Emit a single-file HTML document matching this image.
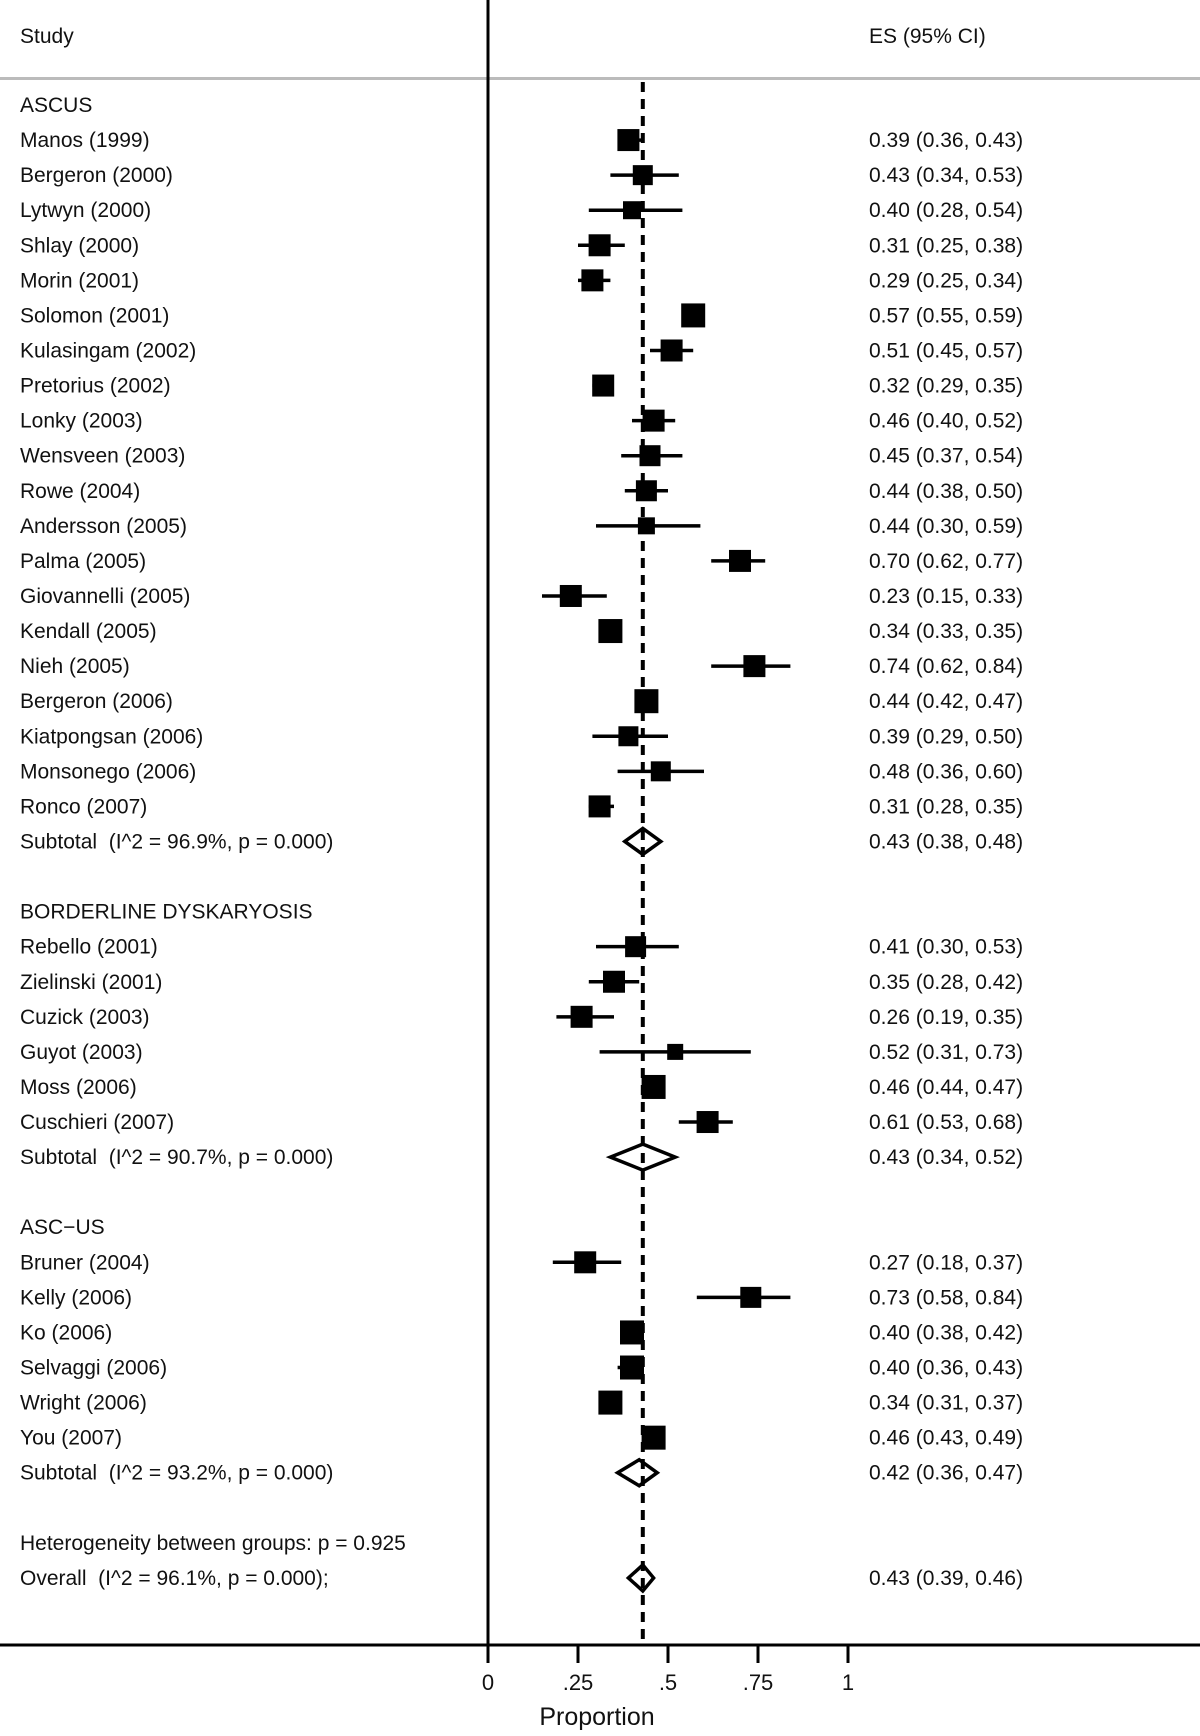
<!DOCTYPE html>
<html><head><meta charset="utf-8">
<style>
html,body{margin:0;padding:0;background:#fff;}
svg text{font-family:"Liberation Sans",sans-serif;fill:#111;white-space:pre;}
</style></head>
<body>
<svg id="chart" width="1200" height="1731" viewBox="0 0 1200 1731" xmlns="http://www.w3.org/2000/svg" xml:space="preserve">
<text x="20" y="43" font-size="21">Study</text>
<text x="869" y="43" font-size="21">ES (95% CI)</text>
<line x1="0" y1="78.5" x2="1200" y2="78.5" stroke="#bbb" stroke-width="3"/>
<line x1="488" y1="0" x2="488" y2="1645" stroke="#000" stroke-width="3"/>
<line x1="0" y1="1645" x2="1200" y2="1645" stroke="#000" stroke-width="3"/>
<g id="ticks"></g>
<g id="marks"></g>
<text x="597" y="1725" font-size="25" text-anchor="middle">Proportion</text>
</svg>
<script>
const labels = ["ASCUS","Manos (1999)","Bergeron (2000)","Lytwyn (2000)","Shlay (2000)","Morin (2001)","Solomon (2001)","Kulasingam (2002)","Pretorius (2002)","Lonky (2003)","Wensveen (2003)","Rowe (2004)","Andersson (2005)","Palma (2005)","Giovannelli (2005)","Kendall (2005)","Nieh (2005)","Bergeron (2006)","Kiatpongsan (2006)","Monsonego (2006)","Ronco (2007)","Subtotal  (I^2 = 96.9%, p = 0.000)","","BORDERLINE DYSKARYOSIS","Rebello (2001)","Zielinski (2001)","Cuzick (2003)","Guyot (2003)","Moss (2006)","Cuschieri (2007)","Subtotal  (I^2 = 90.7%, p = 0.000)","","ASC\u2212US","Bruner (2004)","Kelly (2006)","Ko (2006)","Selvaggi (2006)","Wright (2006)","You (2007)","Subtotal  (I^2 = 93.2%, p = 0.000)","","Heterogeneity between groups: p = 0.925","Overall  (I^2 = 96.1%, p = 0.000);"];
const types = ["h","s","s","s","s","s","s","s","s","s","s","s","s","s","s","s","s","s","s","s","s","d","t","h","s","s","s","s","s","s","d","t","h","s","s","s","s","s","s","d","t","t","d"];
const es = [null,0.39,0.43,0.40,0.31,0.29,0.57,0.51,0.32,0.46,0.45,0.44,0.44,0.70,0.23,0.34,0.74,0.44,0.39,0.48,0.31,0.43,null,null,0.41,0.35,0.26,0.52,0.46,0.61,0.43,null,null,0.27,0.73,0.40,0.40,0.34,0.46,0.42,null,null,0.43];
const lo = [null,0.36,0.34,0.28,0.25,0.25,0.55,0.45,0.29,0.40,0.37,0.38,0.30,0.62,0.15,0.33,0.62,0.42,0.29,0.36,0.28,0.38,null,null,0.30,0.28,0.19,0.31,0.44,0.53,0.34,null,null,0.18,0.58,0.38,0.36,0.31,0.43,0.36,null,null,0.39];
const hi = [null,0.43,0.53,0.54,0.38,0.34,0.59,0.57,0.35,0.52,0.54,0.50,0.59,0.77,0.33,0.35,0.84,0.47,0.50,0.60,0.35,0.48,null,null,0.53,0.42,0.35,0.73,0.47,0.68,0.52,null,null,0.37,0.84,0.42,0.43,0.37,0.49,0.47,null,null,0.46];
const weights = [0,22,20,18,22,22,24,22,22,22,21,21,17,22,22,24,22,24,20,20,22,0,0,0,21,22,22,16,24,22,0,0,0,22,21,24,24,24,24,0,0,0,0];
const tickVals = [0,0.25,0.5,0.75,1];
const tickLabels = ["0",".25",".5",".75","1"];
const overallES = 0.43;

const NS="http://www.w3.org/2000/svg";
const X0=488, XS=360, Y0=105, DY=35.07;
function xs(v){return X0+v*XS;}
function ys(i){return Y0+i*DY;}
function mk(tag,attrs,parent){const e=document.createElementNS(NS,tag);for(const k in attrs)e.setAttribute(k,attrs[k]);parent.appendChild(e);return e;}
function fmt(v){return v.toFixed(2);}
const marks=document.getElementById('marks');
const ticks=document.getElementById('ticks');
const svg=document.getElementById('chart');

tickVals.forEach((v,i)=>{
  const t=mk('line',{x1:xs(v),y1:1645,x2:xs(v),y2:1663,stroke:'#000','stroke-width':3},ticks);
  
  
  const tl=mk('text',{x:xs(v),y:1690,'font-size':22,'text-anchor':'middle'},ticks);
  tl.textContent=tickLabels[i];
  
  
});

labels.forEach((lab,i)=>{
  const y=ys(i);
  if(lab){
    const t=mk('text',{x:20,y:y+7,'font-size':21},svg);
    t.textContent=lab;
    
    
  }
  if(es[i]!==null){
    const et=mk('text',{x:869,y:y+7,'font-size':21},svg);
    et.textContent=fmt(es[i])+' ('+fmt(lo[i])+', '+fmt(hi[i])+')';
    
    
  }
  if(types[i]==='s'){
    const l=mk('line',{x1:xs(lo[i]),y1:y,x2:xs(hi[i]),y2:y,stroke:'#000','stroke-width':3.5},marks);
    
    
    const s=weights[i];
    const r=mk('rect',{x:xs(es[i])-s/2,y:y-s/2,width:s,height:s,fill:'#000'},marks);
    
    
  } else if(types[i]==='d'){
    const h=13;
    const p=mk('polygon',{points:`${xs(lo[i])},${y} ${xs(es[i])},${y-h} ${xs(hi[i])},${y} ${xs(es[i])},${y+h}`,fill:'#fff',stroke:'#000','stroke-width':3.5},marks);
    
    
  }
});
const ref=mk('line',{x1:xs(overallES),y1:82,x2:xs(overallES),y2:1645,stroke:'#000','stroke-width':4,'stroke-dasharray':'10 7'},marks);


</script>
</body></html>
